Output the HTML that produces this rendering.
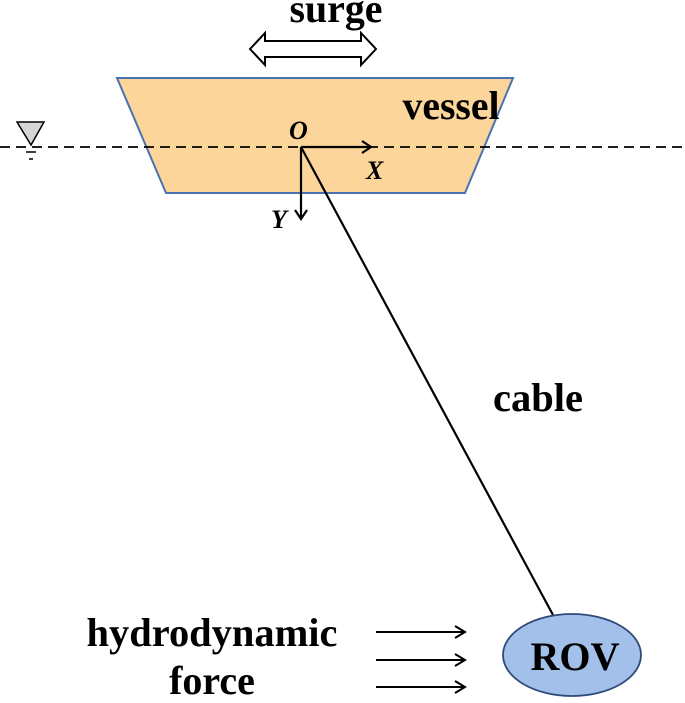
<!DOCTYPE html>
<html><head><style>body{margin:0;background:#fff}</style></head><body>
<svg width="685" height="698" xmlns="http://www.w3.org/2000/svg" font-family="Liberation Serif, serif" font-weight="bold">
<polygon points="117,78 513,78 465,193 166,193" fill="#fcd59a" stroke="#4a72b0" stroke-width="2"/>
<line x1="0" y1="147" x2="685" y2="147" stroke="#000" stroke-width="1.8" stroke-dasharray="10,6"/>
<polygon points="17,122 44,122 31,145" fill="#d6d6d6" stroke="#000" stroke-width="1.5"/>
<line x1="26" y1="152" x2="36" y2="152" stroke="#000" stroke-width="1.5"/>
<line x1="29" y1="159" x2="33" y2="159" stroke="#000" stroke-width="1.5"/>
<polygon points="250,49 265,33 265,41 361,41 361,33 376,49 361,65 361,57 265,57 265,65" fill="#fff" stroke="#000" stroke-width="2"/>
<text x="336" y="22" font-size="40" text-anchor="middle" textLength="93" lengthAdjust="spacingAndGlyphs">surge</text>
<text x="451" y="119" font-size="40" text-anchor="middle" textLength="97" lengthAdjust="spacingAndGlyphs">vessel</text>
<text x="289" y="139" font-size="26" font-style="italic">O</text>
<text x="366" y="179" font-size="26" font-style="italic">X</text>
<text x="271" y="228" font-size="26" font-style="italic">Y</text>
<line x1="301" y1="147" x2="370" y2="147" stroke="#000" stroke-width="2.2"/>
<polyline points="362,141 371,147 362,153" fill="none" stroke="#000" stroke-width="2.2"/>
<line x1="301" y1="147" x2="301" y2="218" stroke="#000" stroke-width="2.2"/>
<polyline points="295,210 301,219 307,210" fill="none" stroke="#000" stroke-width="2.2"/>
<line x1="301" y1="147" x2="553" y2="615" stroke="#000" stroke-width="2.2"/>
<text x="538" y="411" font-size="40" text-anchor="middle" textLength="90" lengthAdjust="spacingAndGlyphs">cable</text>
<ellipse cx="572" cy="655" rx="69" ry="41" fill="#a3c0ea" stroke="#2f4a7a" stroke-width="1.8"/>
<text x="575" y="670" font-size="40" text-anchor="middle" textLength="89" lengthAdjust="spacingAndGlyphs">ROV</text>
<g stroke="#000" stroke-width="2" fill="none">
<line x1="376" y1="632" x2="464" y2="632"/><polyline points="455,626 465,632 455,638"/>
<line x1="376" y1="660" x2="464" y2="660"/><polyline points="455,654 465,660 455,666"/>
<line x1="376" y1="687" x2="464" y2="687"/><polyline points="455,681 465,687 455,693"/>
</g>
<text x="212" y="646" font-size="40" text-anchor="middle" textLength="251" lengthAdjust="spacingAndGlyphs">hydrodynamic</text>
<text x="212" y="694" font-size="40" text-anchor="middle">force</text>
</svg>
</body></html>
